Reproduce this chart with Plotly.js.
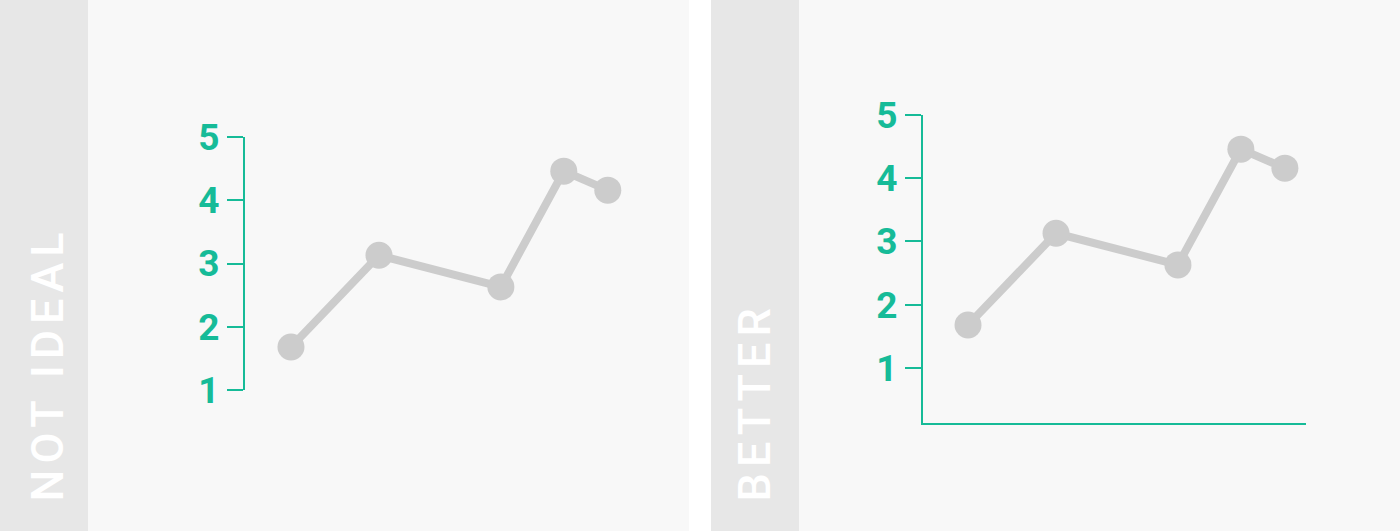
<!DOCTYPE html>
<html>
<head>
<meta charset="utf-8">
<script src="https://cdn.plot.ly/plotly-3.0.1.min.js"></script>
<style>
  body { margin: 0; background: #ffffff; }
  #chart { width: 1400px; height: 531px; }
  .annotation-text { letter-spacing: 6px; }
</style>
</head>
<body>
<div id="chart"></div>
<script>
// === Data === //
var xVals = [1, 3, 5.77, 7.2, 8.2];
var yVals = [1.68, 3.13, 2.63, 4.46, 4.16];
var tickVals = [1, 2, 3, 4, 5];
var panelLabels = ['NOT IDEAL', 'BETTER'];

var green = '#16bb98';
var grey = '#cccccc';

// same line in both panels
function makeTrace(xa, ya){
    return {
        x: xVals,
        y: yVals,
        xaxis: xa,
        yaxis: ya,
        type: 'scatter',
        mode: 'lines+markers',
        cliponaxis: false,
        hoverinfo: 'skip',
        line: {color: grey, width: 8},
        marker: {color: grey, size: 27}
    };
}

var data = [makeTrace('x', 'y'), makeTrace('x2', 'y2')];

var tickFont = {family: 'Roboto, sans-serif', size: 37, color: green, weight: 'bold'};

function yAxis(domain, range, anchor){
    return {
        domain: domain,
        range: range,
        anchor: anchor,
        tickvals: tickVals,
        showline: true,
        linecolor: green,
        linewidth: 2,
        ticks: 'outside',
        ticklen: 16,
        tickwidth: 2,
        tickcolor: green,
        tickfont: tickFont,
        showgrid: false,
        zeroline: false,
        fixedrange: true
    };
}

var layout = {
    width: 1400,
    height: 531,
    margin: {l: 0, r: 0, t: 0, b: 0},
    paper_bgcolor: '#ffffff',
    plot_bgcolor: 'rgba(0,0,0,0)',
    showlegend: false,
    xaxis: {
        domain: [245/1400, 630/1400],
        range: [-0.045, 8.705],
        visible: false,
        anchor: 'y'
    },
    yaxis: yAxis([1 - 390/531, 1 - 137/531], [1, 5], 'x'),
    xaxis2: {
        domain: [923/1400, 1306/1400],
        range: [-0.023, 8.68],
        anchor: 'y2',
        showline: true,
        linecolor: green,
        linewidth: 2,
        showticklabels: false,
        ticks: '',
        showgrid: false,
        zeroline: false
    },
    yaxis2: yAxis([1 - 423/531, 1 - 115/531], [0.13, 5], 'x2'),
    shapes: [
        // panel backgrounds
        {type: 'rect', xref: 'paper', yref: 'paper', x0: 0, x1: 689/1400, y0: 0, y1: 1,
         fillcolor: '#f8f8f8', line: {width: 0}, layer: 'below'},
        {type: 'rect', xref: 'paper', yref: 'paper', x0: 711/1400, x1: 1, y0: 0, y1: 1,
         fillcolor: '#f8f8f8', line: {width: 0}, layer: 'below'},
        // side strips
        {type: 'rect', xref: 'paper', yref: 'paper', x0: 0, x1: 88/1400, y0: 0, y1: 1,
         fillcolor: '#e7e7e7', line: {width: 0}, layer: 'below'},
        {type: 'rect', xref: 'paper', yref: 'paper', x0: 711/1400, x1: 799/1400, y0: 0, y1: 1,
         fillcolor: '#e7e7e7', line: {width: 0}, layer: 'below'}
    ],
    annotations: [
        {text: panelLabels[0], xref: 'paper', yref: 'paper', x: 47/1400, y: 1 - 504/531,
         xanchor: 'center', yanchor: 'bottom', textangle: -90, showarrow: false,
         font: {family: 'Roboto, sans-serif', size: 45, color: '#ffffff', weight: 500}},
        {text: panelLabels[1], xref: 'paper', yref: 'paper', x: 754/1400, y: 1 - 504/531,
         xanchor: 'center', yanchor: 'bottom', textangle: -90, showarrow: false,
         font: {family: 'Roboto, sans-serif', size: 45, color: '#ffffff', weight: 500}}
    ]
};

Plotly.newPlot('chart', data, layout, {displayModeBar: false, staticPlot: true});
</script>
</body>
</html>
